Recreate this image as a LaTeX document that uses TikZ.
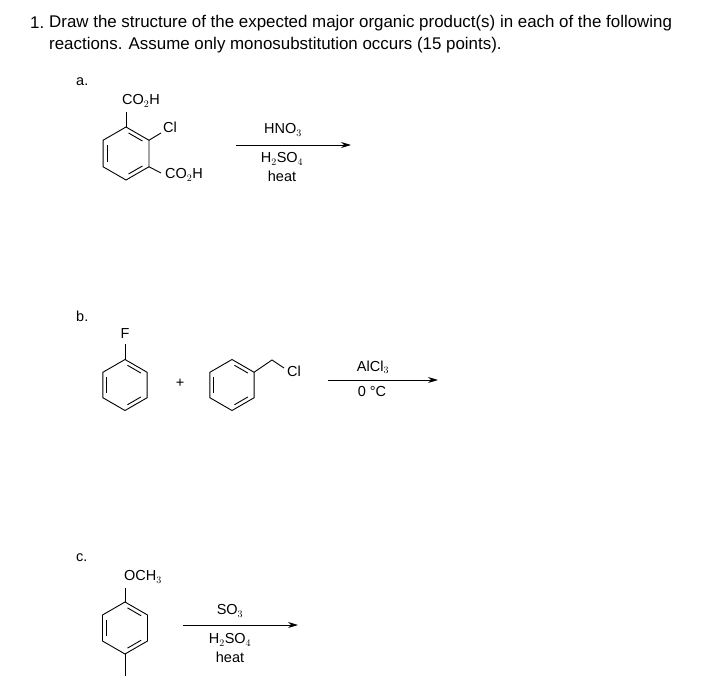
\documentclass[tikz,border=0pt]{standalone}
\usepackage{fontspec}
\setmainfont{Liberation Sans}
\usetikzlibrary{arrows.meta}
\newcommand{\benzring}[4]{%
 \begin{scope}[shift={(#1,#2)}]
  \draw[bond] (-90:#3) coordinate (#4t) -- (-30:#3) coordinate (#4ur) -- (30:#3) coordinate (#4lr) -- (90:#3) coordinate (#4b) -- (150:#3) coordinate (#4ll) -- (210:#3) coordinate (#4ul) -- cycle;
  \draw[bond] (-83:0.78*#3) -- (-37:0.78*#3);
  \draw[bond] (37:0.78*#3) -- (83:0.78*#3);
  \draw[bond] (157:0.78*#3) -- (203:0.78*#3);
 \end{scope}}
\begin{document}
\begin{tikzpicture}[x=1pt,y=-1pt,
  bond/.style={line width=0.9pt},
  lbl/.style={inner sep=0pt,font=\fontsize{14.5}{17}\selectfont},
  txt/.style={inner sep=0pt,anchor=west,font=\fontsize{16.9}{19}\selectfont},
  rxn/.style={line width=0.9pt,-{Stealth[length=10pt,width=6pt]}}]
\useasboundingbox (0,0) rectangle (702,696);
\node[txt] (q1) at (30,23) {1.};
\node[txt] (q1a) at (49,23) {Draw the structure of the expected major organic product(s) in each of the following};
\node[txt] (q1b) at (49,45) {reactions. Assume only monosubstitution occurs (15 points).};
\node[lbl,anchor=west] (la) at (76,82) {a.};
\node[lbl,anchor=west] (lb) at (76,316) {b.};
\node[lbl,anchor=west] (lc) at (76,558) {c.};
% a
\benzring{126}{153.5}{26.5}{A}
\node[lbl] (a1) at (141,101) {CO$_2$H};
\node[lbl] (a2) at (170,127) {Cl};
\node[lbl] (a3) at (184,175) {CO$_2$H};
\draw[bond] (At) -- (126,112);
\draw[bond] (Aur) -- (161,133);
\draw[bond] (Alr) -- (161,173);
\coordinate (ra1) at (236,145); \coordinate (ra2) at (351,145);
\draw[rxn] (ra1) -- (ra2);
\node[lbl] (ha) at (283,130) {HNO$_3$};
\node[lbl] (hb) at (282,159) {H$_2$SO$_4$};
\node[lbl] (hc) at (282,176) {heat};
% b
\benzring{125}{385}{25.5}{B}
\node[lbl] (f) at (125,334) {F};
\draw[bond] (Bt) -- (125,344);
\node[lbl] (plus) at (180,383) {+};
\benzring{232}{385}{25.5}{C}
\coordinate (ch2) at (272,360);
\draw[bond] (Cur) -- (ch2) -- (284,368);
\node[lbl] (cl) at (294,371) {Cl};
\coordinate (rb1) at (328,380); \coordinate (rb2) at (438,380);
\draw[rxn] (rb1) -- (rb2);
\node[lbl] (al) at (373,367) {AlCl$_3$};
\node[lbl] (deg) at (372,392) {0 °C};
% c
\benzring{125}{628}{26}{D}
\node[lbl] (och) at (143,577) {OCH$_3$};
\draw[bond] (Dt) -- (125,588);
\coordinate (me) at (125,676);
\draw[bond] (Db) -- (me);
\coordinate (rc1) at (183,625); \coordinate (rc2) at (298,625);
\draw[rxn] (rc1) -- (rc2);
\node[lbl] (so) at (230,611) {SO$_3$};
\node[lbl] (hd) at (230,640) {H$_2$SO$_4$};
\node[lbl] (he) at (230,657) {heat};
\end{tikzpicture}
\end{document}
